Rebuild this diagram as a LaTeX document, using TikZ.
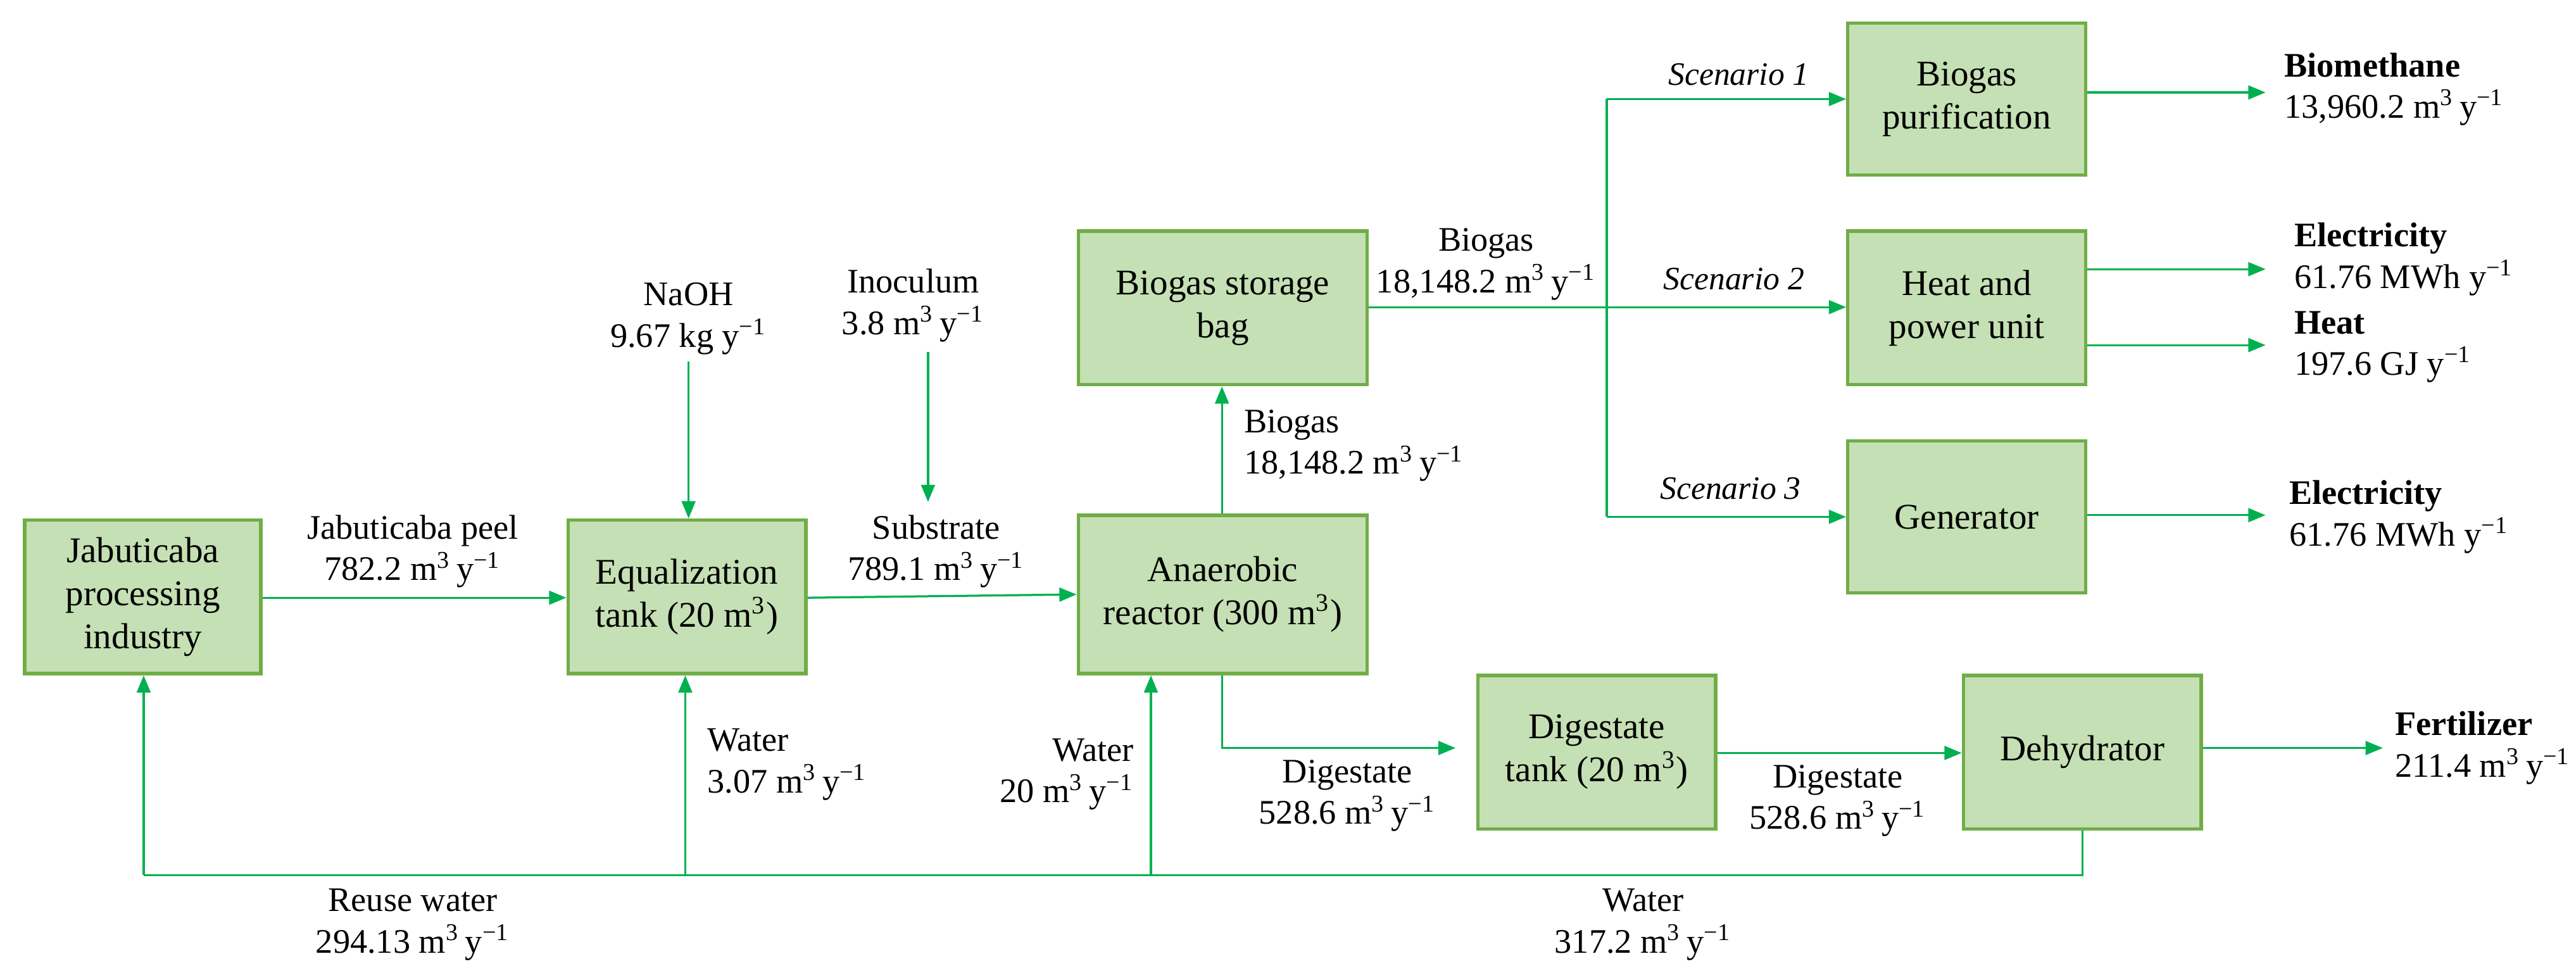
\documentclass[tikz,border=0pt]{standalone}
\usepackage{fontspec}
\setmainfont{Liberation Serif}
\usetikzlibrary{arrows.meta}
\definecolor{bfill}{HTML}{C5E0B4}
\definecolor{bdraw}{HTML}{70AD47}
\definecolor{ln}{HTML}{00B050}
\newcommand{\my}{m\textsuperscript{3}\,y\textsuperscript{−1}}
\begin{document}
\begin{tikzpicture}[x=0.48pt,y=-0.48pt,
  box/.style={draw=bdraw,fill=bfill,line width=1pt,align=center,inner sep=0pt,font=\fontsize{10.5}{12.5}\selectfont},
  lab/.style={align=center,font=\fontsize{10}{12}\selectfont,inner sep=0pt},
  flow/.style={draw=ln,line width=0.6pt,-{Triangle[length=5pt,width=4pt]}},
  plain/.style={draw=ln,line width=0.6pt}]
\useasboundingbox (0,0) rectangle (1560,589);
\newcommand{\bx}[6]{\node[box,minimum width={(#4-#2)*0.48pt},minimum height={(#5-#3)*0.48pt}] (#1) at ({(#2+#4)/2},{(#3+#5)/2}) {#6};}
\bx{jab}{15}{315}{158}{408}{Jabuticaba\\processing\\industry}
\bx{eq}{344}{315}{488}{408}{Equalization\\tank (20 m\textsuperscript{3})}
\bx{an}{653}{312}{828}{408}{Anaerobic\\reactor (300 m\textsuperscript{3})}
\bx{bag}{653}{140}{828}{233}{Biogas storage\\bag}
\bx{pur}{1119}{14}{1263}{106}{Biogas\\purification}
\bx{hp}{1119}{140}{1263}{233}{Heat and\\power unit}
\bx{gen}{1119}{267}{1263}{359}{Generator}
\bx{dt}{895}{409}{1039}{502}{Digestate\\tank (20 m\textsuperscript{3})}
\bx{deh}{1189}{409}{1333}{502}{Dehydrator}
% main flows
\draw[flow] (jab.east|-0,362) -- (eq.west|-0,362);
\draw[flow] (eq.east|-0,362) -- (an.west|-0,360);
\coordinate (naoh) at (417,219);
\draw[flow] (naoh) -- (eq.north-|naoh);
\coordinate (ino) at (562,213);
\draw[flow] (ino) -- (562,304);
\draw[flow] (an.north-|740,0) -- (bag.south-|740,0);
\draw[flow] (bag.east|-0,186) -- (hp.west|-0,186);
\coordinate (br1) at (973,60); \coordinate (br3) at (973,313);
\draw[plain] (br1) -- (br3);
\draw[flow] (br1) -- (pur.west|-br1);
\draw[flow] (br3) -- (gen.west|-br3);
% outputs
\coordinate (o1) at (1372,56); \coordinate (o2) at (1372,163); \coordinate (o3) at (1372,209);
\coordinate (o4) at (1372,312); \coordinate (o5) at (1443,453);
\draw[flow] (pur.east|-o1) -- (o1);
\draw[flow] (hp.east|-o2) -- (o2);
\draw[flow] (hp.east|-o3) -- (o3);
\draw[flow] (gen.east|-o4) -- (o4);
\draw[flow] (deh.east|-o5) -- (o5);
% digestate
\coordinate (dc) at (740,453);
\draw[flow] (an.south-|dc) -- (dc) -- ([xshift=-6pt]dt.west|-dc);
\draw[flow] (dt.east|-0,456) -- (deh.west|-0,456);
% water
\coordinate (w0) at (87,530); \coordinate (w1) at (415,530); \coordinate (w2) at (697,530); \coordinate (w3) at (1261,530);
\draw[plain] (deh.south-|w3) -- (w3) -- (w0);
\draw[flow] (w0) -- (jab.south-|w0);
\draw[flow] (w1) -- (eq.south-|w1);
\draw[flow] (w2) -- (an.south-|w2);
% labels
\node[lab] at (250,334) {Jabuticaba peel\\782.2 \my};
\node[lab] at (567,334) {Substrate\\789.1 \my};
\node[lab] at (417,193) {NaOH\\9.67 kg y\textsuperscript{−1}};
\node[lab] at (553,185) {Inoculum\\3.8 \my};
\node[lab,anchor=west,align=left] at (753,270) {Biogas\\18,148.2 \my};
\node[lab] at (900,160) {Biogas\\18,148.2 \my};
\node[lab,font=\fontsize{9.5}{11}\itshape] at (1053,45) {Scenario 1};
\node[lab,font=\fontsize{9.5}{11}\itshape] at (1050,169) {Scenario 2};
\node[lab,font=\fontsize{9.5}{11}\itshape] at (1048,296) {Scenario 3};
\node[lab,anchor=west,align=left] at (1383,54) {\textbf{Biomethane}\\13,960.2 \my};
\node[lab,anchor=west,align=left] at (1389,157) {\textbf{Electricity}\\61.76 MWh y\textsuperscript{−1}};
\node[lab,anchor=west,align=left] at (1389,210) {\textbf{Heat}\\197.6 GJ y\textsuperscript{−1}};
\node[lab,anchor=west,align=left] at (1386,313) {\textbf{Electricity}\\61.76 MWh y\textsuperscript{−1}};
\node[lab,anchor=west,align=left] at (1450,453) {\textbf{Fertilizer}\\211.4 \my};
\node[lab] at (816,482) {Digestate\\528.6 \my};
\node[lab] at (1113,485) {Digestate\\528.6 \my};
\node[lab,anchor=west,align=left] at (428,463) {Water\\3.07 \my};
\node[lab,anchor=east,align=right] at (687,469) {Water\\20 \my};
\node[lab] at (250,560) {Reuse water\\294.13 \my};
\node[lab] at (995,560) {Water\\317.2 \my};
\end{tikzpicture}
\end{document}
